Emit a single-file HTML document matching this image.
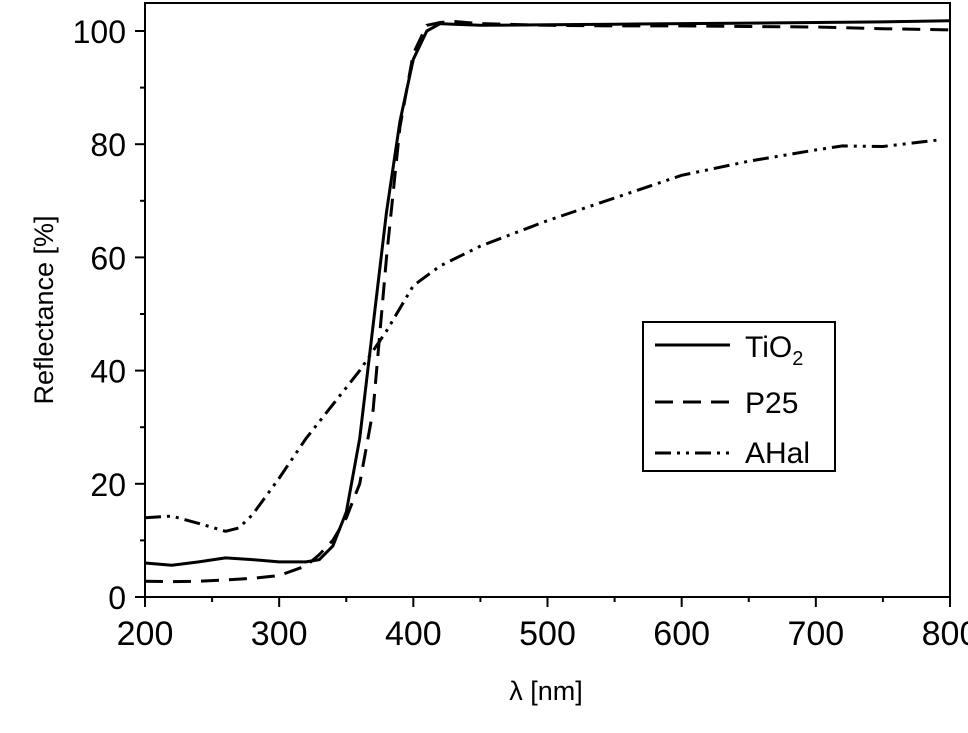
<!DOCTYPE html>
<html><head><meta charset="utf-8"><style>
body{margin:0;background:#fff;}
svg text{font-family:"Liberation Sans",Arial,sans-serif;fill:#000;}
</style></head><body>
<svg id="c" width="968" height="728">
<g id="axes"></g>
<g id="series"></g>
<g>
<rect x="643" y="322" width="192" height="149" fill="#fff" stroke="#000" stroke-width="2"/>
<g><line x1="655" y1="345" x2="730" y2="345" stroke="#000" stroke-width="3"/><text x="745" y="357" font-size="30">TiO<tspan font-size="20" dy="8">2</tspan></text></g>
<g><line x1="655" y1="402" x2="730" y2="402" stroke="#000" stroke-width="3" stroke-dasharray="18,10"/><text x="745" y="413" font-size="30">P25</text></g>
<g><line x1="655" y1="453" x2="730" y2="453" stroke="#000" stroke-width="3" stroke-dasharray="16,6,3,6,3,6"/><text x="745" y="463" font-size="30">AHal</text></g>
</g>
<text x="546" y="700" font-size="27" text-anchor="middle">λ [nm]</text>
<text transform="translate(53,310) rotate(-90)" font-size="27" text-anchor="middle">Reflectance [%]</text>
</svg>
<script>
const xTicks=[200,300,400,500,600,700,800];
const yTicks=[0,20,40,60,80,100];
const wl=[200,220,240,260,280,300,320,330,340,350,360,370,380,390,400,410,420,430,450,500,550,600,650,700,750,800];
const tio2=[6,5.6,6.2,6.9,6.6,6.2,6.2,6.6,9,15,28,48,68,84,95,100,101.3,101.2,101,101.1,101.2,101.3,101.4,101.5,101.6,101.8];
const p25=[2.8,2.7,2.8,3,3.3,3.8,5.5,7.5,10,14,20,33,60,83,96,101,101.5,101.7,101.3,101,100.9,100.9,100.8,100.7,100.4,100.2];
const wl2=[200,220,240,260,270,280,300,320,340,360,380,400,420,450,500,550,600,650,700,720,750,790];
const ahal=[14,14.3,13,11.6,12.2,14.5,21,28,34,40,47,55,58.5,62,66.5,70.5,74.5,77,79,79.7,79.6,80.7];
const X=v=>145+(v-200)*805/600, Y=v=>597-v*5.66;
const ns="http://www.w3.org/2000/svg";
const ax=document.getElementById('axes'), se=document.getElementById('series');
function mk(p,t,a){const e=document.createElementNS(ns,t);for(const k in a)e.setAttribute(k,a[k]);p.appendChild(e);return e;}
const frame=mk(ax,'rect',{x:145,y:3,width:805,height:594,fill:'none',stroke:'#000','stroke-width':2});


xTicks.forEach((v,i)=>{
 mk(ax,'line',{x1:X(v),x2:X(v),y1:597,y2:607,stroke:'#000','stroke-width':2});
 if(i<xTicks.length-1) mk(ax,'line',{x1:X(v+50),x2:X(v+50),y1:597,y2:602,stroke:'#000','stroke-width':2});
 const t=mk(ax,'text',{x:X(v),y:645,'font-size':34,'text-anchor':'middle'});t.textContent=v;
 
 
});
yTicks.forEach((v,i)=>{
 mk(ax,'line',{x1:135,x2:145,y1:Y(v),y2:Y(v),stroke:'#000','stroke-width':2});
 if(i<yTicks.length-1) mk(ax,'line',{x1:140,x2:145,y1:Y(v+10),y2:Y(v+10),stroke:'#000','stroke-width':2});
 const t=mk(ax,'text',{x:126,y:Y(v)+12,'font-size':32,'text-anchor':'end'});t.textContent=v;
 
 
});
function line(xs,ys,dash,name){
 const d=xs.map((x,i)=>(i?'L':'M')+X(x).toFixed(1)+','+Y(ys[i]).toFixed(1)).join('');
 const p=mk(se,'path',{d:d,fill:'none',stroke:'#000','stroke-width':3,'stroke-dasharray':dash,'stroke-linejoin':'round'});
 
 
}
line(wl,tio2,'none','line-tio2');
line(wl,p25,'18,10','line-p25');
line(wl2,ahal,'16,6,3,6,3,6','line-ahal');
</script>
</body></html>
